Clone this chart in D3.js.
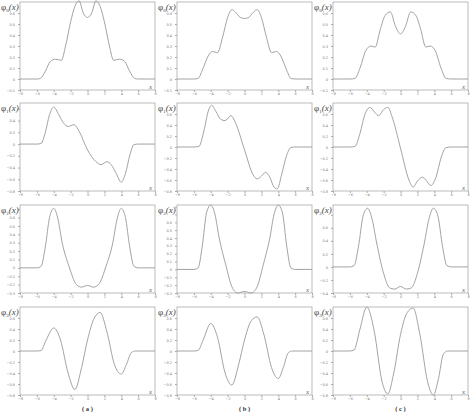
<!DOCTYPE html>
<html><head><meta charset="utf-8">
<script src="https://cdn.jsdelivr.net/npm/d3@7"></script>
<style>body{margin:0;background:#fff}svg{display:block}</style>
</head><body><svg id="c" width="474" height="412"></svg>
<script>
const colLabels = ["( a )", "( b )", "( c )"];
const rowNames = ["0", "1", "2", "3"];
const xTicks = [-8, -6, -4, -2, 0, 2, 4, 6, 8];
const yDomains = [
  [[-0.1,0.7],[-0.1,0.7],[-0.1,0.7]],
  [[-0.8,0.7],[-0.8,0.8],[-0.8,0.8]],
  [[-0.3,0.75],[-0.3,0.82],[-0.4,0.95]],
  [[-0.8,0.8],[-0.8,0.8],[-0.8,0.8]]
];
const yTickSets = [
  [[-0.1,0,0.1,0.2,0.3,0.4,0.5,0.6],[-0.1,0,0.1,0.2,0.3,0.4,0.5,0.6],[-0.1,0,0.1,0.2,0.3,0.4,0.5,0.6]],
  [[-0.8,-0.6,-0.4,-0.2,0,0.2,0.4,0.6],[-0.8,-0.6,-0.4,-0.2,0,0.2,0.4,0.6],[-0.8,-0.6,-0.4,-0.2,0,0.2,0.4,0.6]],
  [[-0.3,-0.2,-0.1,0,0.1,0.2,0.3,0.4,0.5,0.6,0.7],[-0.3,-0.2,-0.1,0,0.1,0.2,0.3,0.4,0.5,0.6,0.7,0.8],[-0.4,-0.2,0,0.2,0.4,0.6,0.8]],
  [[-0.8,-0.6,-0.4,-0.2,0,0.2,0.4,0.6],[-0.8,-0.6,-0.4,-0.2,0,0.2,0.4,0.6],[-0.8,-0.6,-0.4,-0.2,0,0.2,0.4,0.6]]
];
const phi0a = [[-8,0],[-6,0],[-5.6,0.005],[-5,0.07],[-4.4,0.16],[-3.8,0.18],[-3.1,0.17],[-2.6,0.3],[-2,0.52],[-1.5,0.66],[-1,0.71],[-0.5,0.6],[0,0.56],[0.5,0.6],[1,0.71],[1.5,0.66],[2,0.52],[2.6,0.3],[3.1,0.17],[3.8,0.18],[4.4,0.16],[5,0.07],[5.6,0.005],[6,0],[8,0]];
const phi0b = [[-8,0],[-6,0],[-5.5,0.005],[-5,0.08],[-4.3,0.21],[-3.8,0.25],[-3.2,0.24],[-2.6,0.38],[-2,0.56],[-1.5,0.63],[-1.1,0.61],[-0.5,0.56],[0,0.55],[0.5,0.56],[1.1,0.61],[1.5,0.63],[2,0.56],[2.6,0.38],[3.2,0.24],[3.8,0.25],[4.3,0.21],[5,0.08],[5.5,0.005],[6,0],[8,0]];
const phi0c = [[-8,0],[-6,0],[-5.4,0.005],[-4.8,0.1],[-4.1,0.26],[-3.5,0.3],[-3,0.29],[-2.4,0.45],[-1.8,0.58],[-1.2,0.61],[-0.6,0.48],[0,0.41],[0.6,0.48],[1.2,0.61],[1.8,0.58],[2.4,0.45],[3,0.29],[3.5,0.3],[4.1,0.26],[4.8,0.1],[5.4,0.005],[6,0],[8,0]];
const phi1a = [[-8,0],[-6,0],[-5.5,0.01],[-5,0.2],[-4.5,0.5],[-4,0.63],[-3.4,0.5],[-2.8,0.35],[-2.3,0.3],[-1.6,0.33],[-1,0.22],[0,-0.1],[1,-0.3],[1.6,-0.35],[2.3,-0.3],[2.8,-0.35],[3.4,-0.5],[4,-0.65],[4.5,-0.5],[5,-0.2],[5.5,-0.01],[6,0],[8,0]];
const phi1b = [[-8,0],[-6,0],[-5.4,0.01],[-4.8,0.3],[-4.3,0.65],[-3.9,0.76],[-3.4,0.65],[-2.8,0.5],[-2.3,0.48],[-1.6,0.57],[-1.1,0.45],[0,-0.05],[1,-0.5],[1.5,-0.58],[2,-0.53],[2.5,-0.46],[3,-0.55],[3.5,-0.73],[3.9,-0.76],[4.4,-0.5],[5,-0.15],[5.5,-0.01],[6,0],[8,0]];
const phi1c = [[-8,0],[-6,0],[-5.4,0.01],[-4.8,0.25],[-4.2,0.6],[-3.6,0.72],[-3,0.62],[-2.6,0.57],[-2,0.68],[-1.5,0.72],[-1,0.55],[0,-0.02],[1,-0.6],[1.5,-0.73],[2,-0.62],[2.6,-0.55],[3,-0.6],[3.6,-0.7],[4.2,-0.55],[4.8,-0.2],[5.4,-0.01],[6,0],[8,0]];
const phi2a = [[-8,0],[-6,0],[-5.5,0.02],[-5,0.25],[-4.5,0.6],[-4,0.71],[-3.5,0.58],[-3,0.3],[-2.2,0.02],[-1.3,-0.2],[-0.7,-0.23],[0,-0.21],[0.7,-0.23],[1.3,-0.2],[2.2,0.02],[3,0.3],[3.5,0.58],[4,0.71],[4.5,0.6],[5,0.25],[5.5,0.02],[6,0],[8,0]];
const phi2b = [[-8,0],[-6,0],[-5.5,0.02],[-5,0.3],[-4.5,0.72],[-4,0.82],[-3.5,0.7],[-3,0.4],[-2.2,0.05],[-1.5,-0.22],[-0.8,-0.3],[0,-0.28],[0.8,-0.3],[1.5,-0.22],[2.2,0.05],[3,0.4],[3.5,0.7],[4,0.82],[4.5,0.72],[5,0.3],[5.5,0.02],[6,0],[8,0]];
const phi2c = [[-8,0],[-6,0],[-5.5,0.02],[-5,0.3],[-4.4,0.8],[-3.9,0.9],[-3.4,0.75],[-2.8,0.35],[-2,-0.1],[-1.3,-0.32],[-0.7,-0.34],[0,-0.3],[0.7,-0.34],[1.3,-0.32],[2,-0.1],[2.8,0.35],[3.4,0.75],[3.9,0.9],[4.4,0.8],[5,0.3],[5.5,0.02],[6,0],[8,0]];
const phi3a = [[-8,0],[-6,0],[-5.5,0.01],[-4.9,0.2],[-4,0.42],[-3.2,0.2],[-2.3,-0.4],[-1.5,-0.7],[-0.7,-0.3],[0,0.2],[0.8,0.6],[1.5,0.7],[2.3,0.35],[3.2,-0.25],[4,-0.42],[4.6,-0.25],[5.2,-0.03],[5.7,0],[8,0]];
const phi3b = [[-8,0],[-6,0],[-5.5,0.01],[-4.9,0.2],[-4,0.5],[-3.2,0.25],[-2.3,-0.4],[-1.5,-0.62],[-0.7,-0.25],[0,0.2],[0.8,0.55],[1.5,0.62],[2.3,0.3],[3.2,-0.3],[4,-0.5],[4.6,-0.3],[5.2,-0.03],[5.7,0],[8,0]];
const phi3c = [[-8,0],[-6,0],[-5.5,0.02],[-4.8,0.4],[-4,0.8],[-3.1,0.35],[-2.2,-0.55],[-1.5,-0.78],[-0.8,-0.4],[0,0.3],[0.8,0.7],[1.5,0.78],[2.3,0.3],[3.2,-0.55],[3.9,-0.8],[4.5,-0.5],[5.1,-0.05],[5.6,0],[8,0]];
const curves = [[phi0a,phi0b,phi0c],[phi1a,phi1b,phi1c],[phi2a,phi2b,phi2c],[phi3a,phi3b,phi3c]];

const svg = d3.select("#c");
const colX = [20, 177, 333], rowY = [2, 103, 205, 307], W = 135, H = 88;
for (let r = 0; r < 4; r++) for (let c = 0; c < 3; c++) {
  const g = svg.append("g").attr("transform", `translate(${colX[c]},${rowY[r]})`);
  const x = d3.scaleLinear().domain([-8, 8]).range([0, W]);
  const y = d3.scaleLinear().domain(yDomains[r][c]).range([H, 0]);
  g.append("rect").attr("width", W).attr("height", H).attr("fill", "none").attr("stroke", "#aaa").attr("stroke-width", 0.8);
  const xa = g.append("g").attr("transform", `translate(0,${H})`).call(d3.axisBottom(x).tickValues(xTicks).tickSize(2).tickPadding(1).tickFormat(d3.format("d")));
  const ya = g.append("g").call(d3.axisLeft(y).tickValues(yTickSets[r][c]).tickSize(2).tickFormat(d => d === 0 ? "0" : d3.format(".1f")(d)));
  [xa, ya].forEach(a => { a.select(".domain").remove(); a.selectAll("line").attr("stroke", "#aaa"); a.selectAll("text").attr("font-size", 3.5).attr("fill", "#777").attr("font-family", "DejaVu Sans"); });
  ya.selectAll(".tick").filter(d => y(d) < 11).select("text").remove();
  g.append("path").datum(curves[r][c]).attr("fill", "none").attr("stroke", "#999").attr("stroke-width", 0.9)
    .attr("d", d3.line().x(d => x(d[0])).y(d => y(d[1])).curve(d3.curveMonotoneX));
  const t = g.append("text").attr("x", -19).attr("y", 8).attr("font-family", "Liberation Serif").attr("font-size", 9).attr("fill", "#444");
  t.append("tspan").text("φ");
  t.append("tspan").attr("font-size", 5).attr("dy", 2).text(rowNames[r]);
  t.append("tspan").attr("dy", -2).attr("font-style", "italic").text("(x)");
  g.append("text").attr("x", W - 6).attr("y", H - 1).attr("font-family", "Liberation Serif").attr("font-style", "italic").attr("font-size", 7).attr("fill", "#666").text("x");
}
colLabels.forEach((l, c) => svg.append("text").attr("x", colX[c] + W / 2).attr("y", 410.5).attr("text-anchor", "middle")
  .attr("font-family", "Liberation Serif").attr("font-weight", "bold").attr("font-size", 6.5).attr("fill", "#333").text(l));
</script></body></html>
